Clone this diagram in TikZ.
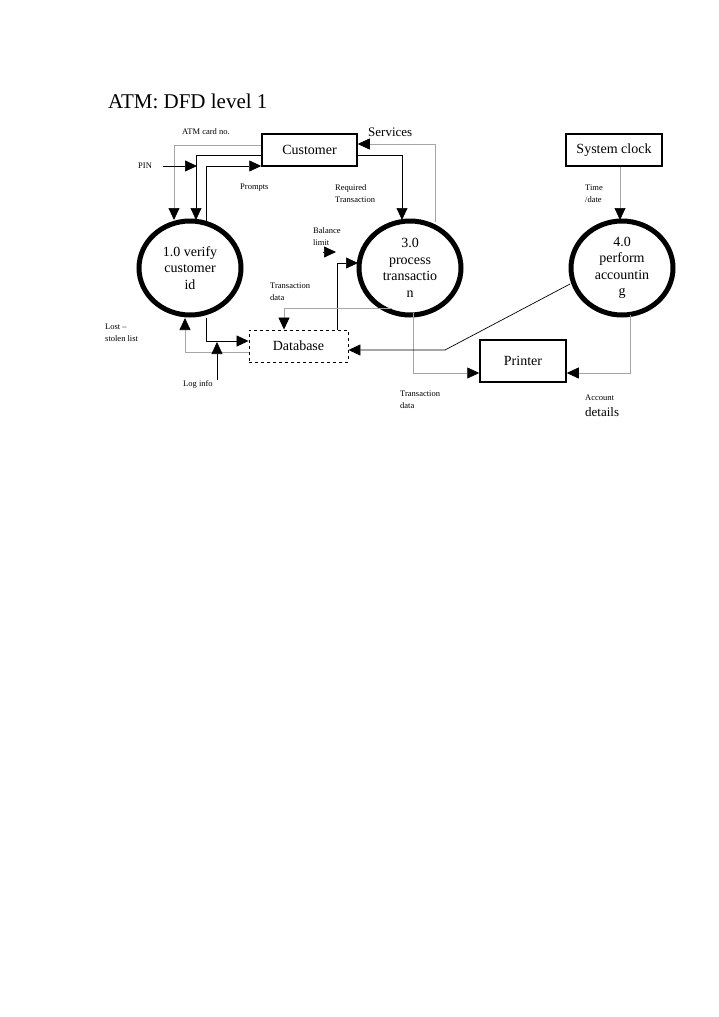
\documentclass[tikz,border=0pt]{standalone}
\usepackage{fontspec}
\setmainfont{Liberation Serif}
\usetikzlibrary{arrows.meta,shapes.geometric}
\begin{document}
\begin{tikzpicture}[x=1pt,y=-1pt,
  box/.style={draw,line width=1.5pt,minimum width=#1,minimum height=32pt,inner sep=0pt,font=\fontsize{14}{16}\selectfont},
  proc/.style={draw,line width=5pt,ellipse,minimum width=102pt,minimum height=94pt,inner sep=0pt,align=center,font=\fontsize{14}{16.5}\selectfont},
  lab/.style={font=\fontsize{8.5}{12}\selectfont,align=left,anchor=west,inner sep=0pt},
  flow/.style={line width=0.7pt,-{Triangle[length=12pt,width=11pt,color=black]}},
  gflow/.style={flow,draw=gray!70}]
\useasboundingbox (0,0) rectangle (719,1017);
\node[anchor=west,inner sep=0pt,font=\fontsize{21}{24}\selectfont] (title) at (108,101) {ATM: DFD level 1};
\node[box=95pt] (cust) at (309.5,150) {Customer};
\node[box=96pt] (clock) at (614,150) {System clock};
\node[box=86pt,minimum height=42pt] (prn) at (523,361) {Printer};
\node[box=99pt,dashed,line width=0.9pt] (db) at (298.5,346) {Database};
\node[proc] (p1) at (190,268) {1.0 verify\\customer\\id};
\node[proc] (p3) at (410,268) {3.0\\process\\transactio\\n};
\node[proc] (p4) at (622,268) {4.0\\perform\\accountin\\g};
% coordinates
\coordinate (pinS) at (163,166);
\coordinate (logS) at (217,380);
\coordinate (balS) at (323,252);
% flows
\draw[gflow] (cust.west |- 0,145) -| (174,220);
\draw[flow] (pinS) -- (197,166);
\draw[flow] (cust.west |- 0,155) -| (196,220);
\draw[flow] (206,221) |- (cust.west |- 0,166);
\draw[flow] (cust.east |- 0,155) -| (402,220);
\draw[gflow] (435,222) |- (cust.east |- 0,144);
\draw[flow] (balS) -- (336,252);
\draw[flow] (db.north -| 337,0) |- (358,263);
\draw[gflow] (392,308) -| (db.north -| 284,0);
\draw[flow] (206,318) |- (db.west |- 0,341);
\draw[gflow] (db.west |- 0,352) -| (185,318);
\draw[flow] (logS) -- (217,342);
\draw[gflow] (413,313) |- (prn.west |- 0,373);
\draw[flow] (570,284) -- (445,350) -- (db.east |- 0,350);
\draw[gflow] (630,315) |- (prn.east |- 0,373);
\draw[gflow] (clock.south -| 620,0) -- (620,220);
% labels
\node[lab] (l1) at (182,132) {ATM card no.};
\node[lab] (l2) at (138,166) {PIN};
\node[lab] (l3) at (240,188) {Prompts};
\node[lab] (l4) at (335,194) {Required\\Transaction};
\node[lab,font=\fontsize{13}{15}\selectfont] (l5) at (368,132) {Services};
\node[lab] (l6) at (313,237) {Balance\\limit};
\node[lab] (l7) at (270,292) {Transaction\\data};
\node[lab] (l8) at (105,333) {Lost --\\stolen list};
\node[lab] (l9) at (183,384) {Log info};
\node[lab] (l10) at (400,400) {Transaction\\data};
\node[lab] (l11) at (585,194) {Time\\/date};
\node[lab] (l12) at (585,398) {Account};
\node[lab,font=\fontsize{13}{15}\selectfont] (l13) at (585,412) {details};
\end{tikzpicture}
\end{document}
